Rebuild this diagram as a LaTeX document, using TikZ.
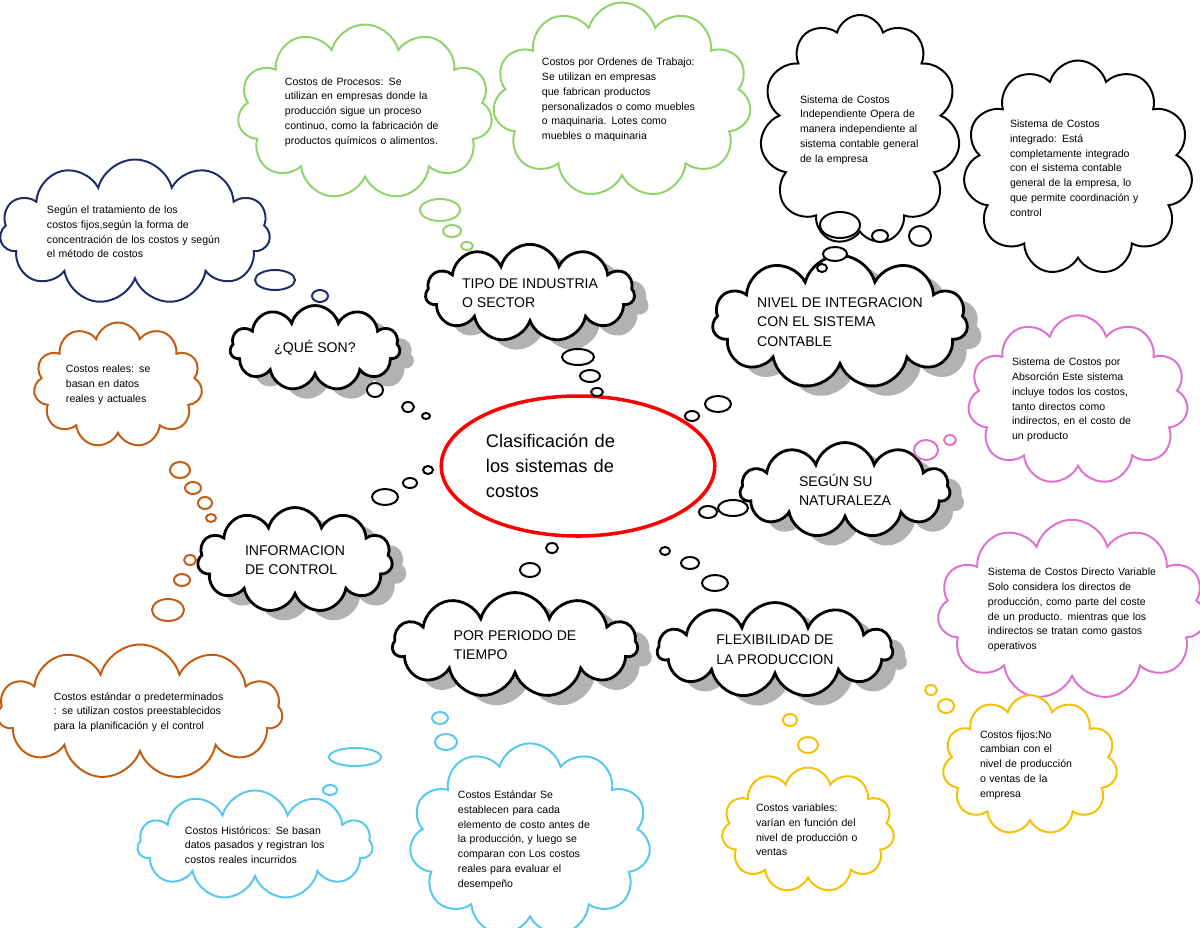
\documentclass[tikz,border=0pt]{standalone}
\usepackage{fontspec}
\setmainfont{Liberation Sans}
\usetikzlibrary{shapes.symbols,shapes.geometric,shadows}
\definecolor{navy}{HTML}{1F2A6B}
\definecolor{verde}{HTML}{8FD36A}
\definecolor{naranja}{HTML}{C55A11}
\definecolor{magenta}{HTML}{E070D0}
\definecolor{celeste}{HTML}{55C8EE}
\definecolor{amarillo}{HTML}{F5C000}
\newcommand\nohyph{\hyphenpenalty=10000\relax}
\tikzset{cl/.style={cloud, cloud puffs=11, cloud ignores aspect, draw, fill=white, line width=1.4pt, align=left, font=\fontsize{7.5}{10.5}\selectfont\nohyph}}
\tikzset{tema/.style={cl, line width=2pt, font=\fontsize{10}{14}\selectfont, drop shadow={shadow xshift=10pt, shadow yshift=-7pt, fill=black!30, opacity=1}}}
\tikzset{b/.style={line width=1.4pt, fill=white}}
\newcommand\bub[4]{\draw[b,#1] (#2) ellipse [x radius=#3, y radius=#4];}
\begin{document}
\begin{tikzpicture}[x=0.025cm, y=-0.025cm]
  \useasboundingbox (0,0) rectangle (1200,927);
  % centro
  \node[ellipse, draw=red, line width=2.5pt, minimum width=266*0.025cm, minimum height=140*0.025cm,
        align=left, font=\fontsize{13}{18}\selectfont, text width=4.6cm] (centro) at (578,466)
        {Clasificación de\\los sistemas de\\costos};
  % temas
  \node[tema, minimum width=170*0.025cm, minimum height=85*0.025cm] (que) at (315,348) {¿QUÉ SON?};
  \node[tema, minimum width=205*0.025cm, minimum height=90*0.025cm] (tipo) at (530,293) {TIPO DE INDUSTRIA\\O SECTOR};
  \node[tema, minimum width=240*0.025cm, minimum height=120*0.025cm] (nivel) at (840,322) {NIVEL DE INTEGRACION\\CON EL SISTEMA\\CONTABLE};
  \node[tema, minimum width=210*0.025cm, minimum height=95*0.025cm] (nat) at (845,490) {SEGÚN SU\\NATURALEZA};
  \node[tema, minimum width=235*0.025cm, minimum height=95*0.025cm] (flex) at (775,650) {FLEXIBILIDAD DE\\LA PRODUCCION};
  \node[tema, minimum width=245*0.025cm, minimum height=105*0.025cm] (periodo) at (515,645) {POR PERIODO DE\\TIEMPO};
  \node[tema, minimum width=195*0.025cm, minimum height=105*0.025cm] (info) at (295,560) {INFORMACION\\DE CONTROL};
  % burbujas negras
  \bub{}{375,390}{8}{7} \bub{}{408,407}{6}{5} \bub{}{426,416}{4}{3}
  \bub{}{578,357}{16}{8} \bub{}{590,376}{10}{6} \bub{}{597,392}{6}{4}
  \bub{}{718,404}{13}{8} \bub{}{692,416}{7}{5}
  \bub{}{733,508}{15}{8} \bub{}{708,512}{9}{6}
  \bub{}{715,583}{13}{8} \bub{}{690,563}{9}{6} \bub{}{665,551}{5}{4}
  \bub{}{530,570}{10}{7} \bub{}{552,548}{6}{5}
  \bub{}{385,497}{13}{8} \bub{}{410,483}{7}{5} \bub{}{428,470}{5}{4}
  % navy
  \node[cl, draw=navy, minimum width=265*0.025cm, minimum height=145*0.025cm, text width=4.4cm] (segun) at (135,232)
    {Según el tratamiento de los costos fijos,según la forma de concentración de los costos y según el método de costos};
  \bub{draw=navy}{275,280}{20}{10} \bub{draw=navy}{320,296}{8}{6}
  % verde
  \node[cl, draw=verde, minimum width=255*0.025cm, minimum height=175*0.025cm, text width=4cm] (procesos) at (365,112)
    {Costos de Procesos: Se utilizan en empresas donde la producción sigue un proceso continuo, como la fabricación de productos químicos o alimentos.};
  \node[cl, draw=verde, minimum width=225*0.025cm, minimum height=195*0.025cm, text width=4cm] (ordenes) at (622,100)
    {Costos por Ordenes de Trabajo: Se utilizan en empresas que fabrican productos personalizados o como muebles o maquinaria. Lotes como muebles o maquinaria};
  \bub{draw=verde}{440,210}{20}{11} \bub{draw=verde}{452,231}{9}{6} \bub{draw=verde}{467,246}{6}{4}
  % negro fino
  \node[cl, minimum width=200*0.025cm, minimum height=230*0.025cm, text width=3cm] (indep) at (860,130)
    {Sistema de Costos Independiente Opera de manera independiente al sistema contable general de la empresa};
  \node[cl, minimum width=185*0.025cm, minimum height=215*0.025cm, text width=3.4cm] (integ) at (1078,168)
    {Sistema de Costos integrado: Está completamente integrado con el sistema contable general de la empresa, lo que permite coordinación y control};
  \bub{}{840,225}{20}{13} \bub{}{835,254}{12}{7} \bub{}{822,268}{5}{4} \bub{}{880,236}{8}{6} \bub{}{920,236}{11}{10}
  % naranja
  \node[cl, draw=naranja, minimum width=165*0.025cm, minimum height=125*0.025cm, text width=2.6cm] (reales) at (118,385)
    {Costos reales: se basan en datos reales y actuales};
  \bub{draw=naranja}{180,470}{10}{8} \bub{draw=naranja}{193,488}{8}{6} \bub{draw=naranja}{205,503}{7}{6} \bub{draw=naranja}{211,518}{5}{4}
  \node[cl, draw=naranja, minimum width=285*0.025cm, minimum height=135*0.025cm, text width=4.3cm] (estandar) at (140,712)
    {Costos estándar o predeterminados : se utilizan costos preestablecidos para la planificación y el control};
  \bub{draw=naranja}{168,610}{16}{11} \bub{draw=naranja}{182,580}{8}{6} \bub{draw=naranja}{190,560}{6}{5}
  % magenta
  \node[cl, draw=magenta, minimum width=205*0.025cm, minimum height=165*0.025cm, text width=3.3cm] (absor) at (1078,400)
    {Sistema de Costos por Absorción Este sistema incluye todos los costos, tanto directos como indirectos, en el costo de un producto};
  \node[cl, draw=magenta, minimum width=255*0.025cm, minimum height=125*0.025cm, text width=4.2cm] (directo) at (1072,610)
    {Sistema de Costos Directo Variable Solo considera los directos de producción, como parte del coste de un producto. mientras que los indirectos se tratan como gastos operativos};
  \bub{draw=magenta}{926,450}{12}{10} \bub{draw=magenta}{950,440}{6}{5}
  % celeste
  \node[cl, draw=celeste, minimum width=235*0.025cm, minimum height=95*0.025cm, text width=3.5cm] (hist) at (255,845)
    {Costos Históricos: Se basan datos pasados y registran los costos reales incurridos};
  \bub{draw=celeste}{355,757}{26}{9} \bub{draw=celeste}{330,790}{7}{5}
  \node[cl, draw=celeste, minimum width=225*0.025cm, minimum height=175*0.025cm, text width=3.6cm] (cestandar) at (530,840)
    {Costos Estándar Se establecen para cada elemento de costo antes de la producción, y luego se comparan con Los costos reales para evaluar el desempeño};
  \bub{draw=celeste}{440,718}{8}{6} \bub{draw=celeste}{446,742}{11}{8}
  % amarillo
  \node[cl, draw=amarillo, minimum width=155*0.025cm, minimum height=125*0.025cm, text width=2.6cm] (variables) at (808,830)
    {Costos variables: varían en función del nivel de producción o ventas};
  \bub{draw=amarillo}{790,720}{7}{6} \bub{draw=amarillo}{808,745}{10}{8}
  \node[cl, draw=amarillo, minimum width=175*0.025cm, minimum height=125*0.025cm, text width=2.5cm] (fijos) at (1030,765)
    {Costos fijos:No cambian con el nivel de producción o ventas de la empresa};
  \bub{draw=amarillo}{931,690}{6}{5} \bub{draw=amarillo}{946,706}{8}{7}
\end{tikzpicture}
\end{document}
